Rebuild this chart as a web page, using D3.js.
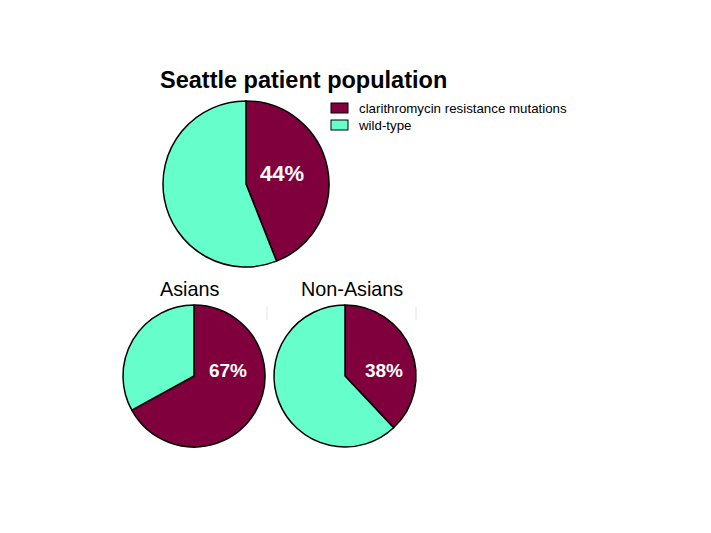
<!DOCTYPE html>
<html>
<head>
<meta charset="utf-8">
<script src="https://cdn.jsdelivr.net/npm/d3@7"></script>
<style>
  body { margin: 0; background: #fff; }
  text { font-family: "Liberation Sans", Arial, sans-serif; }
</style>
</head>
<body>
<svg id="chart" width="711" height="533"></svg>
<script>
const categories = ["clarithromycin resistance mutations", "wild-type"];
const colors = ["#7f003c", "#66ffcc"];

const groups = ["Seattle patient population", "Asians", "Non-Asians"];
const resistantPct = [44, 67, 38];

// pie placement (center x, center y, radius)
const layout = [
  { cx: 246, cy: 184, r: 83, labelSize: 22, labelDx: 36, labelDy: -9, titleX: 160, titleY: 88, titleSize: 23.5, bold: true },
  { cx: 194, cy: 376, r: 71, labelSize: 19, labelDx: 34, labelDy: -4, titleX: 160, titleY: 296, titleSize: 19.8, bold: false },
  { cx: 345, cy: 376, r: 71, labelSize: 19, labelDx: 39, labelDy: -4, titleX: 301, titleY: 296, titleSize: 19.8, bold: false }
];

const svg = d3.select("#chart");
const color = d3.scaleOrdinal().domain(categories).range(colors);
const pie = d3.pie().sort(null).value(d => d.value);

// faint separators seen near the small pies
[267, 416].forEach(x => {
  svg.append("line")
    .attr("x1", x).attr("x2", x)
    .attr("y1", 306).attr("y2", 320)
    .attr("stroke", "#e4e4e4")
    .attr("stroke-width", 1);
});

groups.forEach((g, i) => {
  const L = layout[i];
  const data = [
    { key: categories[0], value: resistantPct[i] },
    { key: categories[1], value: 100 - resistantPct[i] }
  ];
  const arc = d3.arc().innerRadius(0).outerRadius(L.r);
  const gp = svg.append("g").attr("transform", `translate(${L.cx},${L.cy})`);

  gp.selectAll("path")
    .data(pie(data))
    .join("path")
    .attr("d", arc)
    .attr("fill", d => color(d.data.key))
    .attr("stroke", "#000")
    .attr("stroke-width", 1.5)
    .attr("stroke-linejoin", "round");

  gp.append("text")
    .attr("x", L.labelDx)
    .attr("y", L.labelDy)
    .attr("text-anchor", "middle")
    .attr("dominant-baseline", "middle")
    .attr("font-size", L.labelSize + "px")
    .attr("font-weight", "bold")
    .attr("fill", "#fff")
    .text(resistantPct[i] + "%");

  svg.append("text")
    .attr("x", L.titleX)
    .attr("y", L.titleY)
    .attr("font-size", L.titleSize + "px")
    .attr("font-weight", L.bold ? "bold" : "normal")
    .attr("fill", "#000")
    .text(g);
});

// legend
const legend = svg.append("g").attr("transform", "translate(331,103)");
categories.forEach((c, i) => {
  const row = legend.append("g").attr("transform", `translate(0,${i * 17})`);
  row.append("rect")
    .attr("width", 17).attr("height", 10)
    .attr("fill", color(c))
    .attr("stroke", "#000")
    .attr("stroke-width", 1);
  row.append("text")
    .attr("x", 28).attr("y", 6)
    .attr("dominant-baseline", "middle")
    .attr("font-size", "13.3px")
    .attr("fill", "#000")
    .text(c);
});
</script>
</body>
</html>
